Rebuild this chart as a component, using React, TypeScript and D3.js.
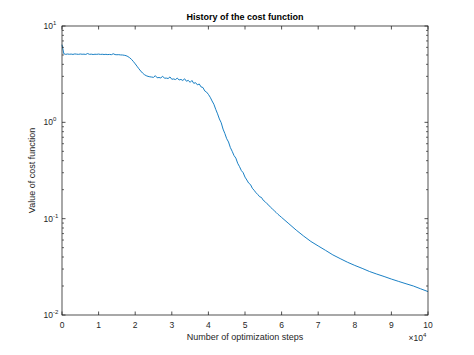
import React from "react";
import * as d3 from "d3";

const W = 474;
const H = 355;

// cost values for the first 60000 steps (one value every 500 steps)
const densePartValues: number[] = [
  6.4, 5.15, 5.08, 5.12, 5.09, 5.11, 5.07, 5.13, 5.1, 5.08,
  5.12, 5.09, 5.1, 5.07, 5.18, 5.08, 5.1, 5.06, 5.09, 5.08,
  5.11, 5.07, 5.09, 5.06, 5.08, 5.05, 5.07, 5.04, 5.15, 5.05,
  5.03, 5.04, 5.01, 5.0, 4.97, 4.92, 4.82, 4.68, 4.5, 4.28,
  4.05, 3.82, 3.6, 3.41, 3.25, 3.13, 3.05, 3.0, 2.97, 2.95,
  2.93, 3.05, 2.9, 2.92, 2.89, 3.01, 2.87, 2.88, 2.85, 2.96,
  2.8, 2.82, 2.78, 2.88, 2.75, 2.79, 2.72, 2.83, 2.67, 2.73,
  2.6, 2.72, 2.54, 2.58, 2.45, 2.5, 2.33, 2.3, 2.12, 2.06,
  1.95, 1.82, 1.667, 1.54, 1.365, 1.225, 1.084, 0.99, 0.851, 0.765,
  0.676, 0.625, 0.547, 0.5, 0.452, 0.425, 0.376, 0.347, 0.316, 0.3,
  0.27, 0.252, 0.234, 0.226, 0.207, 0.197, 0.186, 0.178, 0.169, 0.166,
  0.155, 0.15, 0.143, 0.138, 0.131, 0.126, 0.121, 0.116, 0.111, 0.107,
  0.103,
];
const denseSteps: number[] = densePartValues.map((_, i) => i * 500);

const tailSteps: number[] = [
  62000, 64000, 66000, 68000, 70000, 72000, 74000, 76000, 78000, 80000,
  82000, 84000, 86000, 88000, 90000, 92000, 94000, 96000, 98000, 100000,
];
const tailValues: number[] = [
  0.0885, 0.076, 0.0661, 0.058, 0.0521, 0.0469, 0.0421, 0.0385, 0.0353, 0.0327,
  0.0305, 0.0283, 0.0266, 0.0251, 0.0236, 0.0223, 0.0211, 0.02, 0.0187, 0.0175,
];

const xTicks: number[] = [0, 10000, 20000, 30000, 40000, 50000, 60000, 70000, 80000, 90000, 100000];
const xTickLabels: string[] = ["0", "1", "2", "3", "4", "5", "6", "7", "8", "9", "10"];
const yMajor: number[] = [0.01, 0.1, 1, 10];
const yExponents: string[] = ["-2", "-1", "0", "1"];

const title = "History of the cost function";
const xLabel = "Number of optimization steps";
const yLabel = "Value of cost function";

export default function App() {
  const left = 62, right = 428, top = 26, bottom = 315;
  const x = d3.scaleLinear().domain([0, 100000]).range([left, right]);
  const y = d3.scaleLog().domain([0.01, 10]).range([bottom, top]);

  const data: [number, number][] = [
    ...denseSteps.map((s, i) => [s, densePartValues[i]] as [number, number]),
    ...tailSteps.map((s, i) => [s, tailValues[i]] as [number, number]),
  ];
  const line = d3
    .line<[number, number]>()
    .x((d) => x(d[0]))
    .y((d) => y(d[1]));

  const minor: number[] = [];
  for (let e = -2; e < 1; e++) {
    for (let k = 2; k <= 9; k++) minor.push(k * Math.pow(10, e));
  }

  const axisColor = "#262626";
  const font = "'Liberation Sans', Arial, Helvetica, sans-serif";

  return (
    <svg
      width={W}
      height={H}
      style={{ position: "absolute", left: 0, top: 0, background: "#fff" }}
      fontFamily={font}
    >
      <rect x={0} y={0} width={W} height={H} fill="#fff" />
      <path d={line(data) || ""} fill="none" stroke="#0072BD" strokeWidth={0.9} strokeLinejoin="round" />
      <rect x={left} y={top} width={right - left} height={bottom - top} fill="none" stroke={axisColor} strokeWidth={0.8} />
      {xTicks.map((t, i) => (
        <g key={"xt" + i}>
          <line x1={x(t)} x2={x(t)} y1={bottom} y2={bottom - 3.5} stroke={axisColor} strokeWidth={0.8} />
          <line x1={x(t)} x2={x(t)} y1={top} y2={top + 3.5} stroke={axisColor} strokeWidth={0.8} />
          <text x={x(t)} y={bottom + 13} fontSize={8.5} textAnchor="middle" fill={axisColor}>
            {xTickLabels[i]}
          </text>
        </g>
      ))}
      {yMajor.map((t, i) => (
        <g key={"ym" + i}>
          <line x1={left} x2={left + 3.5} y1={y(t)} y2={y(t)} stroke={axisColor} strokeWidth={0.8} />
          <line x1={right} x2={right - 3.5} y1={y(t)} y2={y(t)} stroke={axisColor} strokeWidth={0.8} />
          <text x={left - 9} y={y(t) + 3} fontSize={8.5} textAnchor="end" fill={axisColor}>
            10
          </text>
          <text x={left - 9} y={y(t) - 1} fontSize={6} textAnchor="start" fill={axisColor}>
            {yExponents[i]}
          </text>
        </g>
      ))}
      {minor.map((t, i) => (
        <g key={"yn" + i}>
          <line x1={left} x2={left + 2} y1={y(t)} y2={y(t)} stroke={axisColor} strokeWidth={0.7} />
          <line x1={right} x2={right - 2} y1={y(t)} y2={y(t)} stroke={axisColor} strokeWidth={0.7} />
        </g>
      ))}
      <text x={right - 5} y={bottom + 26} fontSize={8.5} textAnchor="end" fill={axisColor}>
        ×10
      </text>
      <text x={right - 5} y={bottom + 22} fontSize={6} textAnchor="start" fill={axisColor}>
        4
      </text>
      <text x={(left + right) / 2} y={bottom + 25} fontSize={9} textAnchor="middle" fill={axisColor}>
        {xLabel}
      </text>
      <text
        transform={`translate(${35},${(top + bottom) / 2}) rotate(-90)`}
        fontSize={9}
        textAnchor="middle"
        fill={axisColor}
      >
        {yLabel}
      </text>
      <text x={(left + right) / 2} y={top - 6} fontSize={9} fontWeight="bold" textAnchor="middle" fill="#000">
        {title}
      </text>
    </svg>
  );
}
